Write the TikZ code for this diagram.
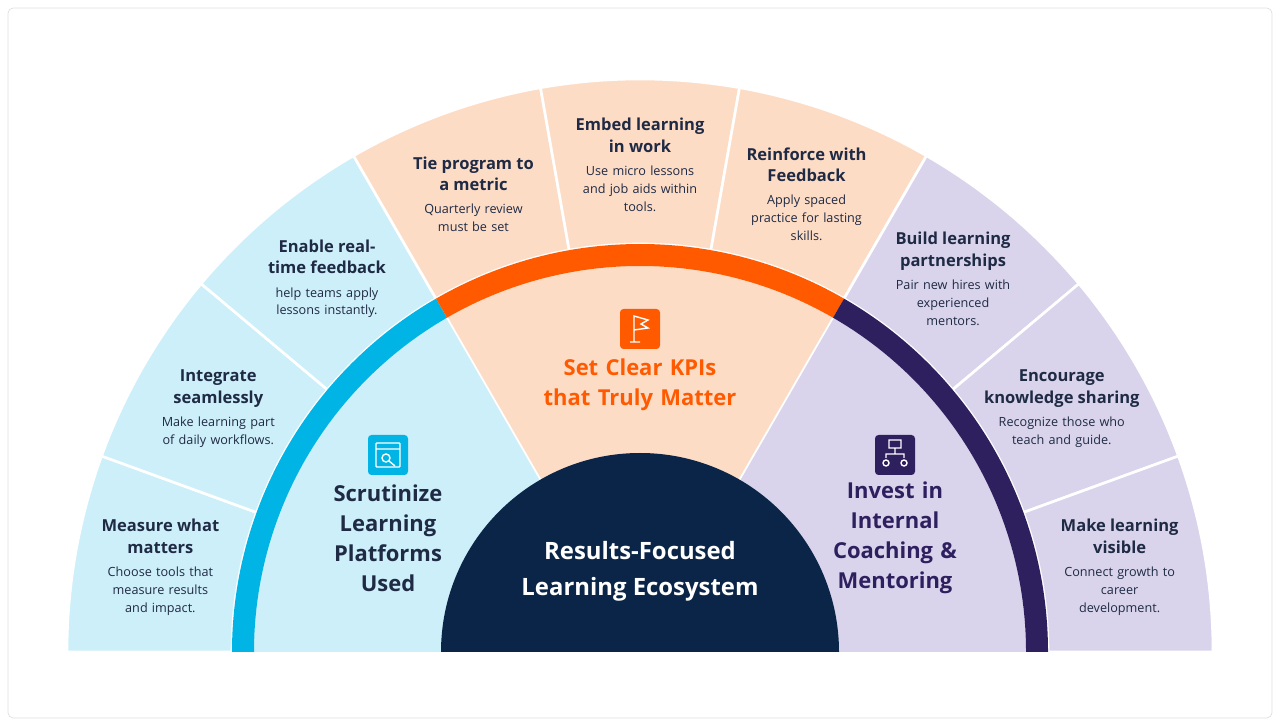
\documentclass[tikz,border=0pt]{standalone}
\usepackage{fontspec}
\setmainfont{Open Sans}
\usetikzlibrary{positioning,calc}
\definecolor{skyl}{HTML}{CDEFF9}
\definecolor{skyd}{HTML}{00B4E6}
\definecolor{peachl}{HTML}{FDDCC6}
\definecolor{orng}{HTML}{FF5A00}
\definecolor{lavl}{HTML}{D9D4EC}
\definecolor{purpd}{HTML}{2E1F5E}
\definecolor{navy}{HTML}{0A2547}
\definecolor{ink}{HTML}{1F2A44}
\begin{document}
\begin{tikzpicture}
	[x=0.02cm,y=0.02cm,
		seg text/.style={align=center,text=ink,font=\fontsize{7.2}{10.2}\selectfont,text width=3.3cm},
		hub text/.style={align=center,font=\fontsize{10.5}{14.5}\selectfont\bfseries,text width=2.6cm},
		icon box/.style={fill=#1,rounded corners=2pt,minimum size=0.8cm}]

	\useasboundingbox (0,0) rectangle (1280,726);
	\draw[gray!25,fill=white,rounded corners=3pt] (8,8) rectangle (1272,718);
	\coordinate (c) at (640,74);

	% inner wedges
	\fill[skyl] (c) -- ++(180:386) arc[start angle=180,end angle=120,radius=386] -- cycle;
	\fill[peachl] (c) -- ++(120:386) arc[start angle=120,end angle=60,radius=386] -- cycle;
	\fill[lavl] (c) -- ++(60:386) arc[start angle=60,end angle=0,radius=386] -- cycle;
	\draw[white,line width=1pt] (c) -- ++(120:386) (c) -- ++(60:386);

	% outer ring
	\foreach \a/\col in {180/skyl,160/skyl,140/skyl,120/peachl,100/peachl,80/peachl,60/lavl,40/lavl,20/lavl}
		\filldraw[fill=\col,draw=white,line width=1.5pt] (c) ++(\a:408) arc[start angle=\a,end angle=\a-20,radius=408]
			-- ++(\a-20:165) arc[start angle=\a-20,end angle=\a,radius=573] -- cycle;

	% coloured band
	\foreach \a/\col in {180/skyd,120/orng,60/purpd}
		\fill[\col] (c) ++(\a:386) arc[start angle=\a,end angle=\a-60,radius=386]
			-- ++(\a-60:22) arc[start angle=\a-60,end angle=\a,radius=408] -- cycle;

	% core
	\fill[navy] (c) ++(0:199) arc[start angle=0,end angle=180,radius=199] -- cycle;
	\node[align=center,text=white,font=\fontsize{13.6}{20.4}\selectfont\bfseries] (core) at (640,155)
		{Results-Focused\\Learning Ecosystem};

	% outer segment texts
	\foreach \ang/\ttl/\body [count=\i] in {
		170/{Measure what\\[2pt]matters}/{Choose tools that\\measure results\\and impact.},
		150/{Integrate\\[2pt]seamlessly}/{Make learning part\\of daily workflows.},
		130/{Enable real-\\[2pt]time feedback}/{help teams apply\\lessons instantly.},
		110/{Tie program to\\[2pt]a metric}/{Quarterly review\\must be set},
		90/{Embed learning\\[2pt]in work}/{Use micro lessons\\and job aids within\\tools.},
		70/{Reinforce with\\[2pt]Feedback}/{Apply spaced\\practice for lasting\\skills.},
		50/{Build learning\\[2pt]partnerships}/{Pair new hires with\\experienced\\mentors.},
		30/{Encourage\\[2pt]knowledge sharing}/{Recognize those who\\teach and guide.},
		10/{Make learning\\[2pt]visible}/{Connect growth to\\career\\development.}}
		\node[seg text] (seg\i) at ($(c)+(\ang:487)$) {{\fontsize{9.4}{12.5}\selectfont\bfseries\ttl}\\[3pt]\body};

	% hub labels and icons
	\node[icon box=skyd] (iconA) at (388,271) {};
	\draw[white,line width=0.8pt,rounded corners=0.5pt] (376,259) rectangle (400,283) (376,277) -- (400,277);
	\draw[white,line width=0.8pt] (386,268) circle (4) (389,265) -- (395,260);
	\node[hub text,text=ink,font=\fontsize{12.5}{17}\selectfont\bfseries] (hubA) at (388,188)
		{Scrutinize\\Learning\\Platforms\\Used};

	\node[icon box=orng] (iconB) at (640,397) {};
	\draw[white,line width=0.8pt] (634,384) -- (634,410) -- (648,406) -- (641,402) -- (648,398) -- (634,396) (630,384) -- (640,384);
	\node[hub text,text=orng,font=\fontsize{12.5}{17}\selectfont\bfseries,text width=4cm] (hubB) at (640,341)
		{Set Clear KPIs\\that Truly Matter};

	\node[icon box=purpd] (iconC) at (895,271) {};
	\draw[white,line width=0.8pt] (889,278) rectangle (901,286) (895,278) -- (895,272) -- (886,272) -- (886,268) (895,272) -- (904,272) -- (904,268)
		(886,263) circle (3) (904,263) circle (3);
	\node[hub text,text=purpd,font=\fontsize{12.5}{17}\selectfont\bfseries,text width=3.2cm] (hubC) at (895,188)
		{Invest in\\Internal\\Coaching \&\\Mentoring};
\end{tikzpicture}
\end{document}
